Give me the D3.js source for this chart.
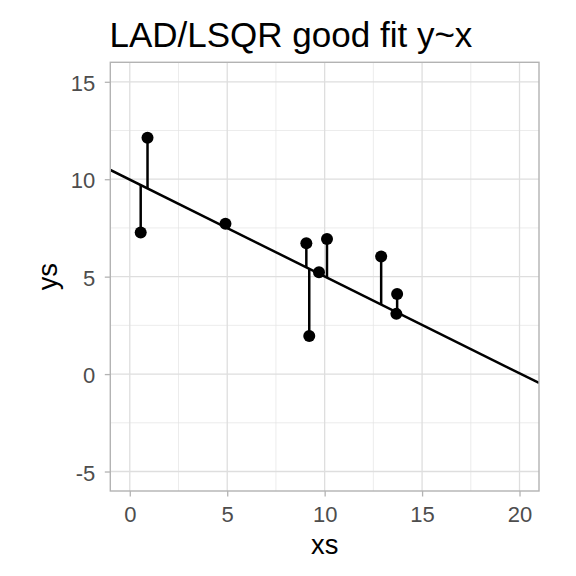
<!DOCTYPE html>
<html>
<head>
<meta charset="utf-8">
<script src="https://cdn.jsdelivr.net/npm/d3@7"></script>
<style>
  html, body { margin: 0; padding: 0; background: #fff; }
  svg { display: block; font-family: "Liberation Sans", Arial, sans-serif; }
</style>
</head>
<body>
<script>
// ---- data ----
const xs = [0.91, 0.56, 4.91, 9.06, 9.21, 9.71, 10.12, 12.90, 13.68, 13.72];
const ys = [12.13, 7.27, 7.71, 6.72, 1.96, 5.22, 6.93, 6.04, 3.09, 4.11];
const fitIntercept = 9.98;
const fitSlope = -0.497;
const xTicks = [0, 5, 10, 15, 20];
const yTicks = [-5, 0, 5, 10, 15];
const xMinor = [2.5, 7.5, 12.5, 17.5];
const yMinor = [-2.5, 2.5, 7.5, 12.5];
const xDomain = [-1, 21];
const yDomain = [-6, 16];
const titleText = "LAD/LSQR good fit y~x";

// ---- layout ----
const W = 576, H = 576;
const P = { left: 110.3, right: 539, top: 62.3, bottom: 491 };

const svg = d3.select("body").append("svg").attr("width", W).attr("height", H);

const x = d3.scaleLinear().domain(xDomain).range([P.left, P.right]);
const y = d3.scaleLinear().domain(yDomain).range([P.bottom, P.top]);

const grid = svg.append("g");
grid.selectAll(".xmin").data(xMinor).join("line")
  .attr("x1", d => x(d)).attr("x2", d => x(d))
  .attr("y1", P.top).attr("y2", P.bottom)
  .attr("stroke", "#e4e4e4").attr("stroke-width", 0.7);
grid.selectAll(".ymin").data(yMinor).join("line")
  .attr("y1", d => y(d)).attr("y2", d => y(d))
  .attr("x1", P.left).attr("x2", P.right)
  .attr("stroke", "#e4e4e4").attr("stroke-width", 0.7);
grid.selectAll(".xmaj").data(xTicks).join("line")
  .attr("x1", d => x(d)).attr("x2", d => x(d))
  .attr("y1", P.top).attr("y2", P.bottom)
  .attr("stroke", "#dedede").attr("stroke-width", 1.3);
grid.selectAll(".ymaj").data(yTicks).join("line")
  .attr("y1", d => y(d)).attr("y2", d => y(d))
  .attr("x1", P.left).attr("x2", P.right)
  .attr("stroke", "#dedede").attr("stroke-width", 1.3);

// clip
svg.append("clipPath").attr("id", "clip").append("rect")
  .attr("x", P.left).attr("y", P.top)
  .attr("width", P.right - P.left).attr("height", P.bottom - P.top);

const plot = svg.append("g").attr("clip-path", "url(#clip)");
const pts = xs.map((d, i) => ({ x: d, y: ys[i], fit: fitIntercept + fitSlope * d }));

// fit line
plot.append("line")
  .attr("x1", x(xDomain[0])).attr("y1", y(fitIntercept + fitSlope * xDomain[0]))
  .attr("x2", x(xDomain[1])).attr("y2", y(fitIntercept + fitSlope * xDomain[1]))
  .attr("stroke", "#000").attr("stroke-width", 2.5);

// residual segments
plot.selectAll(".seg").data(pts).join("line")
  .attr("x1", d => x(d.x)).attr("x2", d => x(d.x))
  .attr("y1", d => y(d.y)).attr("y2", d => y(d.fit))
  .attr("stroke", "#000").attr("stroke-width", 2.5);

// points
plot.selectAll(".pt").data(pts).join("circle")
  .attr("cx", d => x(d.x)).attr("cy", d => y(d.y)).attr("r", 6)
  .attr("fill", "#000");

// border
svg.append("rect")
  .attr("x", P.left).attr("y", P.top)
  .attr("width", P.right - P.left).attr("height", P.bottom - P.top)
  .attr("fill", "none").attr("stroke", "#b3b3b3").attr("stroke-width", 1.4);

// axes
const xAxis = svg.append("g").attr("transform", `translate(0,${P.bottom})`)
  .call(d3.axisBottom(x).tickValues(xTicks).tickSize(5.5).tickPadding(4).tickFormat(d3.format("d")));
const yAxis = svg.append("g").attr("transform", `translate(${P.left},0)`)
  .call(d3.axisLeft(y).tickValues(yTicks).tickSize(5.5).tickPadding(4).tickFormat(d => d < 0 ? "-" + Math.abs(d) : d));
[xAxis, yAxis].forEach(a => {
  a.select(".domain").remove();
  a.selectAll(".tick line").attr("stroke", "#b3b3b3").attr("stroke-width", 1.3);
  a.selectAll(".tick text").attr("fill", "#4d4d4d").attr("font-size", 22)
    .attr("font-family", "Liberation Sans, Arial, sans-serif");
});
xAxis.selectAll(".tick text").attr("dy", 0).attr("y", 31.3);
yAxis.selectAll(".tick text").attr("dy", 8.5).attr("x", -15);

// axis titles
svg.append("text").attr("x", (P.left + P.right) / 2).attr("y", 554.3)
  .attr("text-anchor", "middle").attr("font-size", 27.3).attr("fill", "#000").text("xs");
svg.append("text")
  .attr("transform", `translate(56.7,${(P.top + P.bottom) / 2}) rotate(-90)`)
  .attr("text-anchor", "middle").attr("font-size", 27.3).attr("fill", "#000").text("ys");

// title
svg.append("text").attr("x", 109.5).attr("y", 46.7)
  .attr("font-size", 35).attr("fill", "#000").text(titleText);
</script>
</body>
</html>
